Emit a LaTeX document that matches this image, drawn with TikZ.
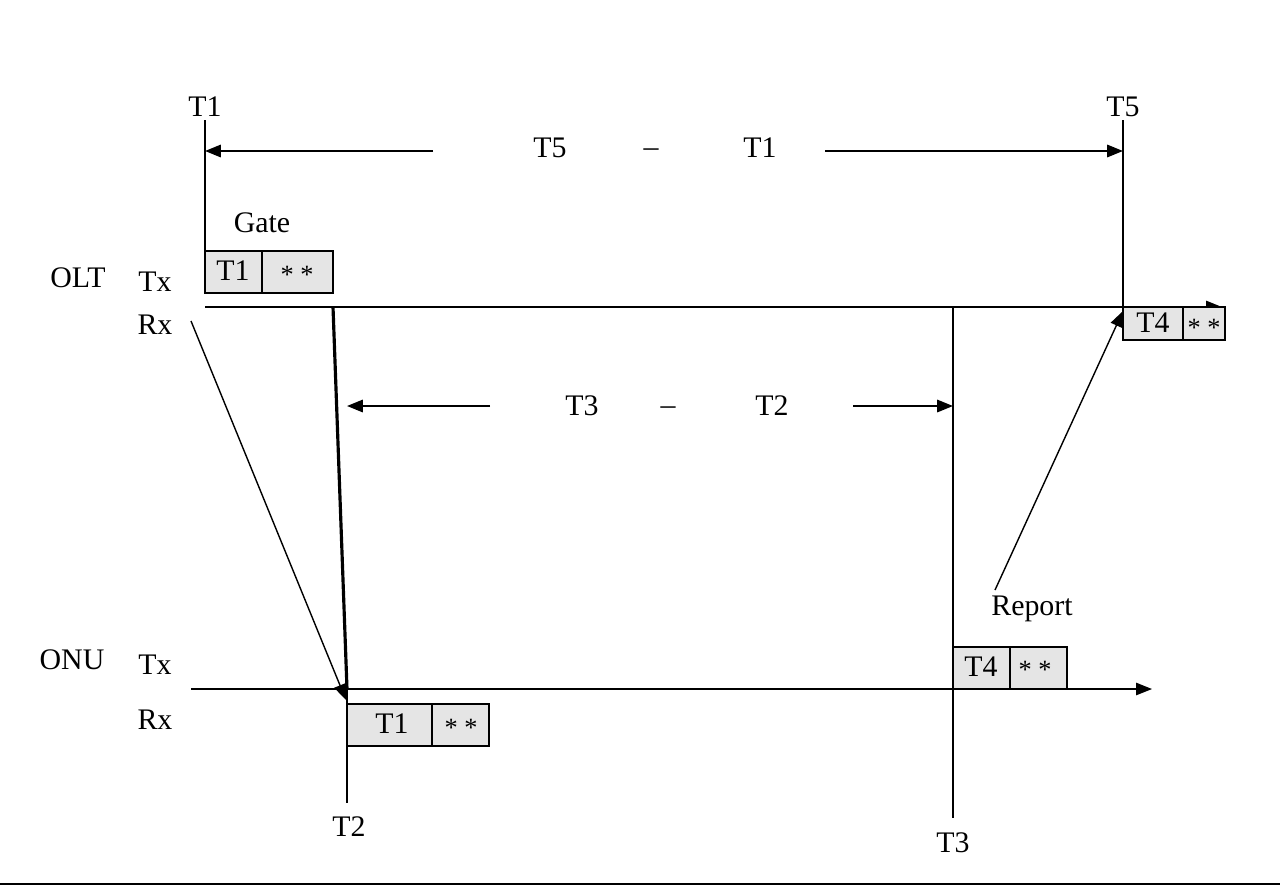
\documentclass[tikz,border=0pt]{standalone}
\usepackage{fontspec}
\setmainfont{Liberation Serif}
\usetikzlibrary{arrows.meta}
\begin{document}
\begin{tikzpicture}[x=0.02cm,y=-0.02cm,
    lbl/.style={font=\fontsize{17}{17}\selectfont,inner sep=0pt},
    star/.style={font=\fontsize{15}{15}\selectfont,inner sep=0pt},
    cell/.style={draw,fill=gray!20,line width=0.8pt},
    tip/.style={-{Triangle[length=9pt,width=7pt]}}]
                \useasboundingbox (0,0) rectangle (1280,886);
                \draw[line width=1.5pt] (0,884) -- (1280,884);

                % time marks
                \node[lbl] (t1) at (205,107) {T1};
                \node[lbl] (t5) at (1123,107) {T5};
                \node[lbl] (t2) at (349,827) {T2};
                \node[lbl] (t3) at (953,843) {T3};
                \draw[line width=0.8pt] (205,120) -- (205,293);
                \draw[line width=1.2pt] (1123,120) -- (1123,307);
                \draw[line width=1.2pt] (953,307) -- (953,818);
                \draw[line width=1.2pt] (347,689) -- (347,803);

                % T5 - T1
                \node[lbl] (da) at (550,148) {T5};
                \node[lbl] (db) at (651,153) {--};
                \node[lbl] (dc) at (760,148) {T1};
                \draw[tip,line width=1.2pt] (433,151) -- (205,151);
                \draw[tip,line width=1.2pt] (825,151) -- (1123,151);

                % T3 - T2
                \node[lbl] (ea) at (582,406) {T3};
                \node[lbl] (eb) at (668,411) {--};
                \node[lbl] (ec) at (772,406) {T2};
                \draw[tip,line width=1.2pt] (490,406) -- (347,406);
                \draw[tip,line width=1.2pt] (853,406) -- (953,406);

                % stations
                \node[lbl] (olt) at (78,278) {OLT};
                \node[lbl] (otx) at (155,282) {Tx};
                \node[lbl] (orx) at (155,325) {Rx};
                \node[lbl] (onu) at (72,660) {ONU};
                \node[lbl] (utx) at (155,665) {Tx};
                \node[lbl] (urx) at (155,720) {Rx};
                \draw[tip,line width=0.8pt] (205,307) -- (1222,307);
                \draw[tip,line width=0.8pt] (191,689) -- (1152,689);

                % frames
                \node[lbl] (gate) at (262,223) {Gate};
                \draw[cell] (205,251) rectangle (262,293);
                \draw[cell] (262,251) rectangle (333,293);
                \node[lbl] at (233,271) {T1};
                \node[star] at (297,275) {* *};
                \draw[cell] (347,704) rectangle (432,746);
                \draw[cell] (432,704) rectangle (489,746);
                \node[lbl] at (392,724) {T1};
                \node[star] at (461,728) {* *};
                \draw[cell] (953,647) rectangle (1010,689);
                \draw[cell] (1010,647) rectangle (1067,689);
                \node[lbl] at (981,667) {T4};
                \node[star] at (1035,670) {* *};
                \draw[cell] (1123,307) rectangle (1183,340);
                \draw[cell] (1183,307) rectangle (1225,340);
                \node[lbl] at (1153,323) {T4};
                \node[star] at (1204,328) {* *};
                \node[lbl] (report) at (1032,609) {Report};

                % propagation
                \draw[line width=1.8pt] (333,307) -- (347,689);
                \draw[tip,line width=0.8pt] (191,321) -- (346,700);
                \draw[tip,line width=0.8pt] (995,590) -- (1123,311);
            \end{tikzpicture}
\end{document}
